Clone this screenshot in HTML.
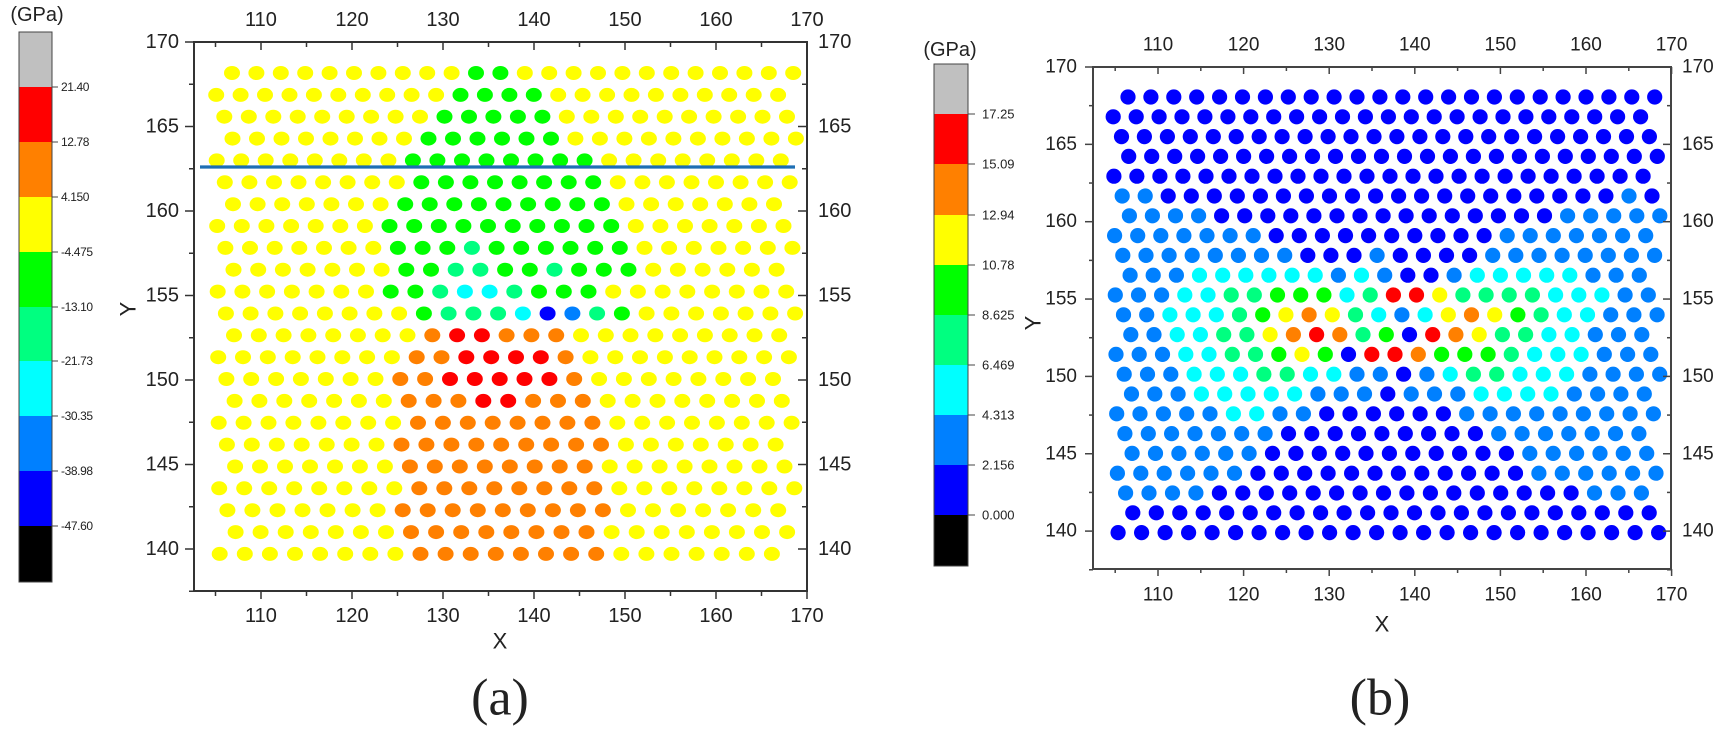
<!DOCTYPE html>
<html><head><meta charset="utf-8"><style>
html,body{margin:0;padding:0;background:#fff;}
svg{display:block;}
text{font-family:"Liberation Sans",sans-serif;fill:#222;}
</style></head><body>
<svg id="s" width="1720" height="731" viewBox="0 0 1720 731" xmlns="http://www.w3.org/2000/svg"></svg>
<script>
var NS="http://www.w3.org/2000/svg";
var S=document.getElementById('s');
var out=[];
var COL={Y:'#FFFF00',G:'#00FF00',M:'#00FF80',C:'#00FFFF',A:'#0080FF',B:'#0000FF',O:'#FF8000',R:'#FF0000'};
function parse(spec){var m={};if(!spec)return m;spec.split(' ').forEach(function(t){var c=t[0];var r=t.slice(1).split('-');var a=+r[0],b=r.length>1?+r[1]:a;for(var i=a;i<=b;i++)m[i]=c;});return m;}
function txt(x,y,s,size,anchor,extra){out.push('<text x="'+x+'" y="'+y+'" font-size="'+size+'" text-anchor="'+(anchor||'start')+'" dominant-baseline="central" '+(extra||'')+'>'+s+'</text>');}
function line(x1,y1,x2,y2,w,c){out.push('<line x1="'+x1+'" y1="'+y1+'" x2="'+x2+'" y2="'+y2+'" stroke="'+(c||'#333')+'" stroke-width="'+(w||1.5)+'"/>');}
function rect(x,y,w,h,f){out.push('<rect x="'+x+'" y="'+y+'" width="'+w+'" height="'+h+'" fill="'+f+'"/>');}

// ---------- Panel A dots ----------
var aSpec=["G10-11","G10-13","G9-13","G8-13","G8-15","G8-15","G7-15","G7-16","G7-9 M10 G11-16","G7-8 M9-10 G11-12 M13 G14-16","G7-8 M9 C10-11 M12 G13-15","G8 M9-11 C12 B13 A14 M15 G16","O8 R9-10 O11-13","O8-9 R10-13 O14","O7-8 R9-13 O14","O7-9 R10-11 O12-14","O8-15","O7-15","O7-14","O8-15","O7-15","O7-14","O8-15"];
var aStart=[232,216,224];
for(var r=0;r<23;r++){var m=parse(aSpec[r]);var y=73+r*21.86;var s=24.4+0.7*r/22;var x0=aStart[r%3]+r*0.17;
 for(var k=0;k<26;k++){var x=x0+k*s;if(x>797)break;var c=COL[m[k]||'Y'];out.push('<ellipse cx="'+x.toFixed(1)+'" cy="'+y.toFixed(1)+'" rx="8" ry="7" fill="'+c+'"/>');}}
// blue line
line(200,167,795,167,3.2,'#1F6FB4');

// ---------- Panel A axes ----------
var aL=194,aR=807,aT=42,aB=591;
function ax(v){return 261+(v-110)*9.1;} function ay(v){return 42+(170-v)*16.9;}
out.push('<rect x="'+aL+'" y="'+aT+'" width="'+(aR-aL)+'" height="'+(aB-aT)+'" fill="none" stroke="#333" stroke-width="2"/>');
for(var v=105;v<=170;v+=5){var X=ax(v);var maj=(v%10==0);var L=maj?8:5;
 line(X,aT,X,aT+L,1.5); line(X,aB,X,aB+L,1.5);
 if(maj){txt(X,20,v,20,'middle'); txt(X,616,v,20,'middle');}}
for(var v=137.5;v<=170;v+=2.5){var Y=ay(v);var maj=(v%5==0);var L=maj?9:5;
 line(aL-L,Y,aL,Y,1.5); line(aR-L,Y,aR,Y,1.5);
 if(maj){txt(179,Y,v,20,'end'); txt(818,Y,v,20,'start');}}
txt(500,641,'X',22,'middle');
txt(128,309,'Y',22,'middle','transform="rotate(-90 128 309)"');
out.push('<text x="500" y="698" font-size="52" text-anchor="middle" dominant-baseline="central" style="font-family:\'Liberation Serif\',serif">(a)</text>');

// ---------- Colorbar A ----------
var cbCols=['#C0C0C0','#FF0000','#FF8000','#FFFF00','#00FF00','#00FF80','#00FFFF','#0080FF','#0000FF','#000000'];
var aB_=[32,87,142,197,252,307,361,416,471,526,582];
var aLab=['21.40','12.78','4.150','-4.475','-13.10','-21.73','-30.35','-38.98','-47.60'];
for(var i=0;i<10;i++)rect(19,aB_[i],33,aB_[i+1]-aB_[i],cbCols[i]);
out.push('<rect x="19" y="32" width="33" height="550" fill="none" stroke="#444" stroke-width="1"/>');
for(var i=0;i<9;i++){var Y=aB_[i+1];line(52,Y,58,Y,1,'#444');txt(61,Y,aLab[i],12,'start','letter-spacing="-0.4"');}
txt(37,15,'(GPa)',20,'middle');

// ---------- Panel B dots ----------
var bSpec=["","","","","","A0-1 A22","A0-3 A19-23","A0-6 A17-23","A0-7 A11 A16-23","A0-2 C3-8 A9 C10 A11 A14 C15-19 A20-23","A0-2 C3-4 M5-6 G7-9 C10 M11 R12-13 Y14 M15-18 C19-21 A22-23","A0-1 C2-4 M5 G6 Y7 O8 Y9 M10 C11 A12 C13 Y14 O15 Y16 G17 M18 C19-20 A21-23","A0-1 C2-3 M4-5 Y6 O7 R8 O9 M10 G11 B12 R13 O14 Y15 M16-17 C18-19 A20-23","A0-2 C3-4 M5-6 G7 Y8 G9 B10 R11-12 O13 G14-16 M17 C18-20 A21-23","A0-2 C3-5 M6-7 C8-9 A10-11 A13 C14 M15-16 C17-19 A20-23","A0-2 C3-7 A8-10 A12-14 C15-18 A19-23","A0-4 C5-6 A7-8 A15-23","A0-6 A16-23","A0-5 A17-23","A0-5 A18-23","A0-3 A20-23","",""];
var bStart=[1128,1113,1121];
for(var r=0;r<23;r++){var m=parse(bSpec[r]);var y=97+r*19.8;var s=22.9+0.6*r/22;var x0=bStart[r%3]+r*0.23;
 for(var k=0;k<26;k++){var x=x0+k*s;if(x>1661)break;var c=COL[m[k]||'B'];out.push('<circle cx="'+x.toFixed(1)+'" cy="'+y.toFixed(1)+'" r="7.6" fill="'+c+'"/>');}}

// ---------- Panel B axes ----------
var bL=1093,bR=1671,bT=67,bBt=569;
function bx(v){return 1158+(v-110)*8.56;} function by(v){return 67+(170-v)*15.47;}
out.push('<rect x="'+bL+'" y="'+bT+'" width="'+(bR-bL)+'" height="'+(bBt-bT)+'" fill="none" stroke="#444" stroke-width="2"/>');
for(var v=105;v<=170;v+=5){var X=bx(v);var maj=(v%10==0);var L=maj?7:4;
 line(X,bT,X,bT+L,1.5,'#444'); line(X,bBt,X,bBt+L,1.5,'#444');
 if(maj){txt(X,45,v,19,'middle'); txt(X,595,v,19,'middle');}}
for(var v=137.5;v<=170;v+=2.5){var Y=by(v);var maj=(v%5==0);var L=maj?8:4;
 line(bL-L,Y,bL,Y,1.5,'#444'); line(bR-L,Y,bR,Y,1.5,'#444');
 if(maj){txt(1077,Y,v,19,'end'); txt(1682,Y,v,19,'start');}}
txt(1382,624,'X',22,'middle');
txt(1033,323,'Y',22,'middle','transform="rotate(-90 1033 323)"');
out.push('<text x="1380" y="698" font-size="52" text-anchor="middle" dominant-baseline="central" style="font-family:\'Liberation Serif\',serif">(b)</text>');

// ---------- Colorbar B ----------
var bB_=[64,114,164,215,265,315,365,415,465,515,566];
var bLab=['17.25','15.09','12.94','10.78','8.625','6.469','4.313','2.156','0.000'];
for(var i=0;i<10;i++)rect(934,bB_[i],34,bB_[i+1]-bB_[i],cbCols[i]);
out.push('<rect x="934" y="64" width="34" height="502" fill="none" stroke="#444" stroke-width="1"/>');
for(var i=0;i<9;i++){var Y=bB_[i+1];line(968,Y,975,Y,1,'#444');txt(982,Y,bLab[i],13,'start');}
txt(950,50,'(GPa)',20,'middle');

S.innerHTML=out.join('');
</script>
</body></html>
